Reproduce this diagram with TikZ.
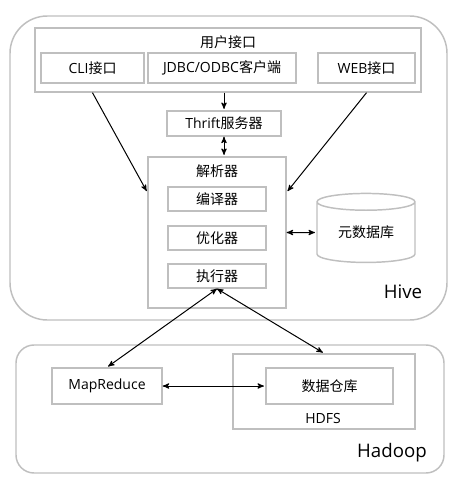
\documentclass[tikz,border=0pt]{standalone}
\usepackage{fontspec}
\setmainfont{Open Sans}
\newfontfamily\cjk{Noto Sans CJK SC}
\usetikzlibrary{arrows}
\usetikzlibrary{positioning,shapes.geometric}
\definecolor{boxgray}{RGB}{191,191,191}

\begin{document}
\begin{tikzpicture}[x=0.75pt,y=-0.75pt,>=stealth',shorten >=1pt,
    every node/.style={font=\fontsize{10.5}{12.6}\selectfont},
    region/.style={draw=boxgray,line width=1.1pt,rounded corners=#1},
    box/.style={draw=boxgray,line width=1.1pt,inner sep=0pt},
    db/.style={cylinder,shape border rotate=90,aspect=0.3,draw=boxgray,line width=1.1pt,inner sep=0pt},
    big/.style={font=\fontsize{14}{16.8}\selectfont},
    link/.style={black,line width=0.75pt}]

  \useasboundingbox (0,0) rectangle (463,492);

  % Hive
  \node[region=28pt,minimum width=327.75pt,minimum height=228pt] (hive) at (228.5,168) {};
  \node[big] (hivetxt) at (403,292) {Hive};

  \node[box,minimum width=289.5pt,minimum height=48pt] (user) at (228,60) {};
  \node (usertxt) at (228,42) {\cjk 用户接口};
  \node[box,minimum width=77.25pt,minimum height=22.5pt] (cli) at (92.5,68) {CLI{\cjk 接口}};
  \node[box,minimum width=111pt,minimum height=22.5pt] (jdbc) at (222,68) {JDBC/ODBC{\cjk 客户端}};
  \node[box,minimum width=72.75pt,minimum height=22.5pt] (web) at (366.5,68) {WEB{\cjk 接口}};

  \node[box,minimum width=85.5pt,minimum height=18.75pt] (thrift) at (224,123.5) {Thrift{\cjk 服务器}};

  \node[box,minimum width=103.5pt,minimum height=113.25pt] (parser) at (217,232.5) {};
  \node (parsertxt) at (217,171) {\cjk 解析器};
  \node[box,minimum width=73.5pt,minimum height=18pt] (cmp) at (217,199) {\cjk 编译器};
  \node[box,minimum width=73.5pt,minimum height=18pt] (opt) at (217,238) {\cjk 优化器};
  \node[box,minimum width=73.5pt,minimum height=18pt] (exe) at (217,276) {\cjk 执行器};

  \node[db,minimum width=73.5pt,minimum height=51.75pt] (meta) at (366,232.5) {\cjk 元数据库};

  % Hadoop
  \node[region=13.5pt,minimum width=321pt,minimum height=96pt] (hadoop) at (230,409) {};
  \node[big] (hadooptxt) at (392,453) {Hadoop};

  \node[box,minimum width=82.5pt,minimum height=27pt] (mr) at (107,386) {MapReduce};
  \node[box,minimum width=136.5pt,minimum height=56.25pt] (hdfs) at (324,391.5) {};
  \node (hdfstxt) at (323,418) {HDFS};
  \node[box,minimum width=95.25pt,minimum height=27pt] (dw) at (329.5,386) {\cjk 数据仓库};

  \path[link,->]
    (user.south -| cli) edge (parser.150)
    (user.south -| web) edge (parser.30)
    (user.south -| thrift) edge (thrift.north)
    (thrift.south) edge[<->] (parser.north -| thrift.south)
    (parser.east) edge[<->] (meta.west)
    (exe.south) edge[<->] (mr.north)
    (exe.south) edge[<->] (hdfs.north)
    (mr.east) edge[<->] (dw.west);
\end{tikzpicture}
\end{document}
